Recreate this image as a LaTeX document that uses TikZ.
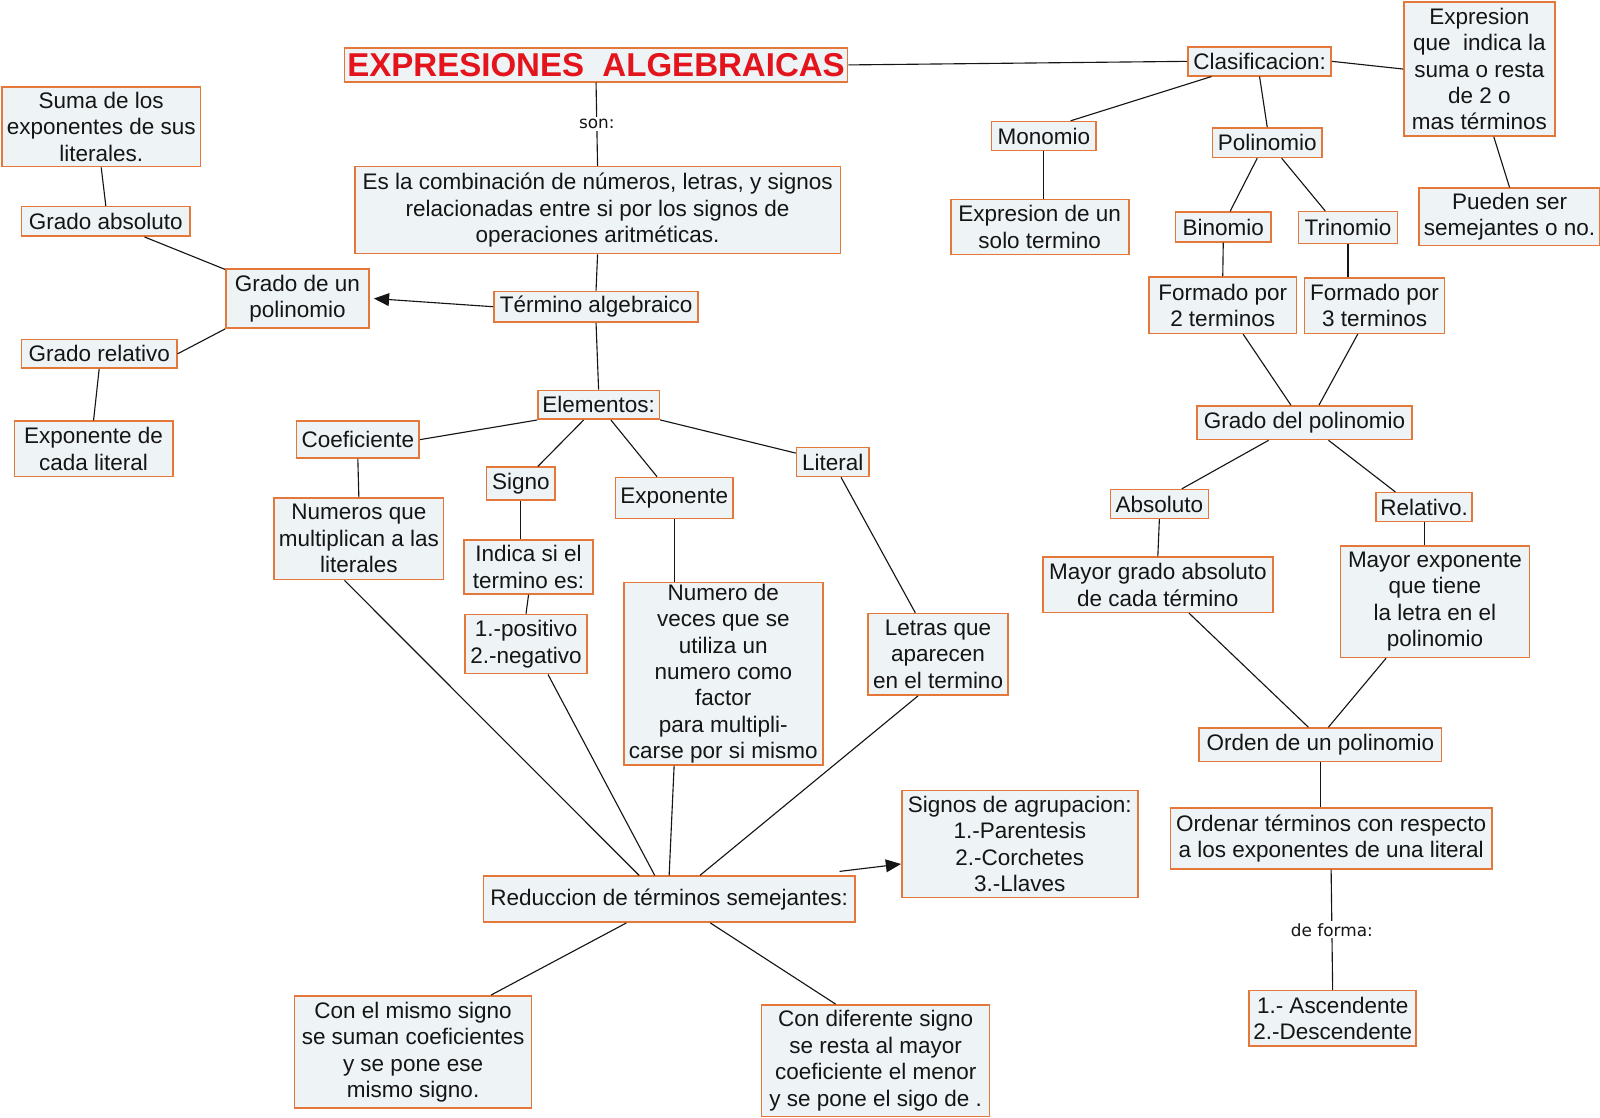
\documentclass[tikz,border=0pt]{standalone}
\usepackage{fontspec}
\setmainfont{Liberation Sans}
\newfontfamily\lblfont{DejaVu Sans}
\usepackage{xcolor}
\usetikzlibrary{arrows.meta,positioning}

\definecolor{boxfill}{HTML}{EEF3F5}
\definecolor{boxline}{HTML}{E4783A}
\definecolor{titlered}{HTML}{E3141C}
\definecolor{ink}{HTML}{151515}

\begin{document}
\begin{tikzpicture}[
    x=0.02556cm, y=-0.02556cm,
    box/.style={rectangle, draw=boxline, fill=boxfill, line width=1.1pt, align=center,
                inner sep=1pt, text=ink, font=\fontsize{16}{18.8}\selectfont},
    lbl/.style={fill=white, inner sep=1.5pt, text=ink, font=\lblfont\fontsize{12}{14}\selectfont},
    line/.style={line width=0.8pt, ink},
    arrow/.style={-{Triangle[length=0.38cm,width=0.32cm]}, line width=0.8pt, ink}
]
    \useasboundingbox (0,0) rectangle (1565,1093.5);

    % Title and definition
    \node[box, minimum width=12.58cm, minimum height=0.84cm, text=titlered,
          font=\bfseries\fontsize{23.5}{25}\selectfont] (title) at (583,63.5) {EXPRESIONES\ \ ALGEBRAICAS};
    \node[box, minimum width=12.14cm, minimum height=2.17cm] (def) at (584.5,205.5)
        {Es la combinación de números, letras, y signos\\relacionadas entre si por los signos de\\operaciones aritméticas.};
    \node[box, minimum width=5.11cm, minimum height=0.77cm] (term) at (583,300) {Término algebraico};

    % Grado de un polinomio (left)
    \node[box, minimum width=3.58cm, minimum height=1.48cm] (gradopol) at (291,292) {Grado de un\\polinomio};
    \node[box, minimum width=4.96cm, minimum height=1.99cm] (suma) at (99,124) {Suma de los\\exponentes de sus\\literales.};
    \node[box, minimum width=4.22cm, minimum height=0.74cm] (gabs) at (103.5,216.5) {Grado absoluto};
    \node[box, minimum width=3.89cm, minimum height=0.72cm] (grel) at (97,346) {Grado relativo};
    \node[box, minimum width=3.96cm, minimum height=1.38cm] (expcada) at (91.5,439) {Exponente de\\cada literal};

    % Elementos
    \node[box, minimum width=3.04cm, minimum height=0.72cm] (elem) at (585.5,396) {Elementos:};
    \node[box, minimum width=3.07cm, minimum height=0.92cm] (coef) at (350,430) {Coeficiente};
    \node[box, minimum width=1.71cm, minimum height=0.82cm] (signo) at (509.5,473) {Signo};
    \node[box, minimum width=2.94cm, minimum height=1.02cm] (expo) at (659.5,487) {Exponente};
    \node[box, minimum width=1.81cm, minimum height=0.72cm] (literal) at (814.5,452) {Literal};
    \node[box, minimum width=4.24cm, minimum height=2.04cm] (numeros) at (351,527) {Numeros que\\multiplican a las\\literales};
    \node[box, minimum width=3.22cm, minimum height=1.35cm] (indica) at (517,554.5) {Indica si el\\termino es:};
    \node[box, minimum width=3.04cm, minimum height=1.48cm] (posneg) at (514.5,630) {1.-positivo\\2.-negativo};
    \node[box, minimum width=4.98cm, minimum height=4.50cm] (numveces) at (707.5,659)
        {Numero de\\veces que se\\utiliza un\\numero como\\factor\\para multipli-\\carse por si mismo};
    \node[box, minimum width=3.50cm, minimum height=2.04cm] (letras) at (917.5,640) {Letras que\\aparecen\\en el termino};

    % Reduccion
    \node[box, minimum width=9.28cm, minimum height=1.15cm] (reduc) at (654.5,879.5) {Reduccion de términos semejantes:};
    \node[box, minimum width=5.90cm, minimum height=2.68cm] (signosag) at (997.5,825.5)
        {Signos de agrupacion:\\1.-Parentesis\\2.-Corchetes\\3.-Llaves};
    \node[box, minimum width=5.93cm, minimum height=2.81cm] (mismo) at (404,1029)
        {Con el mismo signo\\se suman coeficientes\\y se pone ese\\mismo signo.};
    \node[box, minimum width=5.70cm, minimum height=2.79cm] (difer) at (856.5,1037.5)
        {Con diferente signo\\se resta al mayor\\coeficiente el menor\\y se pone el sigo de .};

    % Clasificacion (right)
    \node[box, minimum width=3.58cm, minimum height=0.72cm] (clasif) at (1232,60) {Clasificacion:};
    \node[box, minimum width=3.78cm, minimum height=3.35cm] (exprind) at (1447,67.5)
        {Expresion\\que\ \ indica la\\suma o resta\\de 2 o\\mas términos};
    \node[box, minimum width=4.52cm, minimum height=1.43cm] (pueden) at (1476.5,212) {Pueden ser\\semejantes o no.};
    \node[box, minimum width=2.61cm, minimum height=0.72cm] (monomio) at (1021,133) {Monomio};
    \node[box, minimum width=4.45cm, minimum height=1.38cm] (solo) at (1017,222) {Expresion de un\\solo termino};
    \node[box, minimum width=2.73cm, minimum height=0.74cm] (polinomio) at (1239.5,139.5) {Polinomio};
    \node[box, minimum width=2.38cm, minimum height=0.74cm] (binomio) at (1196.5,222) {Binomio};
    \node[box, minimum width=2.48cm, minimum height=0.79cm] (trinomio) at (1318.5,222.5) {Trinomio};
    \node[box, minimum width=3.68cm, minimum height=1.41cm] (form2) at (1196,298.5) {Formado por\\2 terminos};
    \node[box, minimum width=3.50cm, minimum height=1.38cm] (form3) at (1344.5,299) {Formado por\\3 terminos};

    % Grado del polinomio
    \node[box, minimum width=5.37cm, minimum height=0.84cm] (gradodel) at (1276,413.5) {Grado del polinomio};
    \node[box, minimum width=2.45cm, minimum height=0.72cm] (absoluto) at (1134,493) {Absoluto};
    \node[box, minimum width=2.40cm, minimum height=0.72cm] (relativo) at (1393,496) {Relativo.};
    \node[box, minimum width=5.75cm, minimum height=1.38cm] (mayorgrado) at (1132.5,572) {Mayor grado absoluto\\de cada término};
    \node[box, minimum width=4.73cm, minimum height=2.79cm] (mayorexp) at (1403.5,588.5)
        {Mayor exponente\\que tiene\\la letra en el\\polinomio};
    \node[box, minimum width=6.06cm, minimum height=0.84cm] (orden) at (1291.5,728.5) {Orden de un polinomio};
    \node[box, minimum width=8.03cm, minimum height=1.53cm] (ordenar) at (1302,820)
        {Ordenar términos con respecto\\a los exponentes de una literal};
    \node[box, minimum width=4.17cm, minimum height=1.38cm] (ascend) at (1303.5,996) {1.- Ascendente\\2.-Descendente};

    % Connectors, centre
    \draw[line] (title.east) -- (clasif.west);
    \draw[line] (title.south) -- node[lbl] {son:} (def.north);
    \draw[line] (def.south) -- (term.north);
    \draw[arrow] (term.west) -- ([xshift=0.1cm]gradopol.east);
    \draw[line] (suma.south) -- (gabs.north);
    \draw[line] (gabs) -- (gradopol);
    \draw[line] (grel.east) -- (gradopol.south west);
    \draw[line] (grel.south) -- (expcada.north);
    \draw[line] (term.south) -- (elem.north);
    \draw[line] (elem.south west) -- (coef.east);
    \draw[line] (elem) -- (signo);
    \draw[line] (elem) -- (expo);
    \draw[line] (elem) -- (literal);
    \draw[line] (coef.south) -- (numeros.north);
    \draw[line] (signo.south) -- (signo.south |- indica.north);
    \draw[line] (indica.south) -- (posneg.north);
    \draw[line] (expo.south) -- (expo.south |- numveces.north);
    \draw[line] (literal) -- (letras);

    % Connectors into and out of Reduccion
    \draw[line] ([xshift=-0.36cm]numeros.south) -- ([xshift=-0.75cm]reduc.north);
    \draw[line] ([xshift=0.55cm]posneg.south) -- ([xshift=-0.36cm]reduc.north);
    \draw[line] ([xshift=-1.23cm]numveces.south) -- (reduc.north);
    \draw[line] ([xshift=-0.5cm]letras.south) -- ([xshift=0.77cm]reduc.north);
    \draw[arrow] ([xshift=-0.4cm, yshift=0.1cm]reduc.north east) -- ([yshift=-0.5cm]signosag.west);
    \draw[line] ([xshift=-1.07cm]reduc.south) -- ([xshift=1.95cm]mismo.north);
    \draw[line] ([xshift=1.03cm]reduc.south) -- ([xshift=-1cm]difer.north);

    % Connectors, right
    \draw[line] (clasif.east) -- (exprind.west);
    \draw[line] ([xshift=-1.2cm]clasif.south) -- ([xshift=0.67cm]monomio.north);
    \draw[line] (clasif.south) -- (polinomio.north);
    \draw[line] (monomio.south) -- (monomio.south |- solo.north);
    \draw[line] ([xshift=0.36cm]exprind.south) -- (pueden.north);
    \draw[line] ([xshift=-0.25cm]polinomio.south) -- ([xshift=0.17cm]binomio.north);
    \draw[line] ([xshift=0.36cm]polinomio.south) -- ([xshift=-0.57cm]trinomio.north);
    \draw[line] (binomio.south) -- (form2.north);
    \draw[line] (trinomio.south) -- (trinomio.south |- form3.north);
    \draw[line] ([xshift=0.51cm]form2.south) -- ([xshift=-0.34cm]gradodel.north);
    \draw[line] ([xshift=-0.42cm]form3.south) -- ([xshift=0.36cm]gradodel.north);
    \draw[line] ([xshift=-0.9cm]gradodel.south) -- ([xshift=0.56cm]absoluto.north);
    \draw[line] ([xshift=0.6cm]gradodel.south) -- ([xshift=-0.72cm]relativo.north);
    \draw[line] (absoluto.south) -- (mayorgrado.north);
    \draw[line] (relativo.south) -- (relativo.south |- mayorexp.north);
    \draw[line] ([xshift=0.78cm]mayorgrado.south) -- ([xshift=-0.3cm]orden.north);
    \draw[line] ([xshift=-1.22cm]mayorexp.south) -- ([xshift=0.2cm]orden.north);
    \draw[line] (orden.south) -- (orden.south |- ordenar.north);
    \draw[line] (ordenar.south) -- node[lbl] {de forma:} (ascend.north);

\end{tikzpicture}
\end{document}
